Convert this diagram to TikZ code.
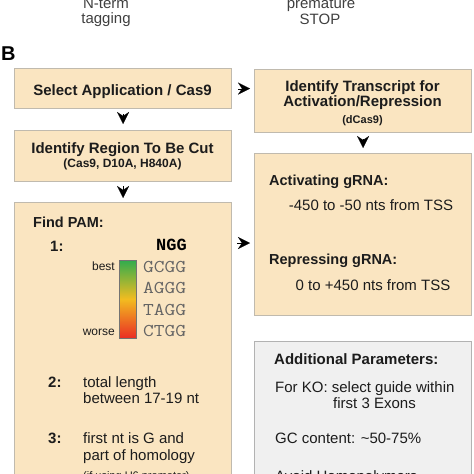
\documentclass[tikz,border=0pt]{standalone}
\usepackage{fontspec}
\setmainfont{Liberation Sans}
\newfontfamily\codonfont{Latin Modern Mono}[FakeStretch=1.16]
\newfontfamily\nggfont{Liberation Mono}
\usetikzlibrary{arrows.meta}
\definecolor{boxfill}{RGB}{250,229,193}
\definecolor{boxline}{RGB}{192,186,174}
\definecolor{grayfill}{RGB}{240,240,240}
\definecolor{grayline}{RGB}{178,178,178}
\definecolor{txt}{RGB}{28,28,28}
\definecolor{codon}{RGB}{100,100,100}
\definecolor{pamgreen}{RGB}{48,172,78}
\definecolor{pamyellow}{RGB}{242,188,32}
\definecolor{pamred}{RGB}{234,46,36}
\tikzset{
  box/.style={draw=boxline, line width=1.2pt, fill=boxfill, anchor=north west, inner sep=0pt},
  graybox/.style={draw=grayline, line width=1.2pt, fill=grayfill, anchor=north west, inner sep=0pt},
  head/.style={-{Stealth[length=12pt, width=12pt, inset=4pt]}, black, line width=0.1pt},
  ttl/.style={font=\fontsize{15}{18}\selectfont\bfseries, text=txt, inner sep=0pt},
  hd/.style={font=\fontsize{14.5}{17}\selectfont\bfseries, text=txt, inner sep=0pt},
  sub/.style={font=\fontsize{12}{14}\selectfont\bfseries, text=txt, inner sep=0pt},
  body/.style={font=\fontsize{15}{18}\selectfont, text=txt, inner sep=0pt},
  small/.style={font=\fontsize{12}{14}\selectfont, text=txt, inner sep=0pt},
  cod/.style={font=\fontsize{18}{20}\selectfont\codonfont, text=codon, inner sep=0pt, anchor=base west},
}
\begin{document}
\begin{tikzpicture}[x=1pt,y=-1pt]
\useasboundingbox (0,0) rectangle (474,474);
\clip (0,0) rectangle (474,474);
\fill[white] (0,0) rectangle (474,474);
% top labels
\node[body, anchor=base, text=black!75] (nterm) at (106,8) {N-term};
\node[body, anchor=base, text=black!75] (tag) at (106,23) {tagging};
\node[body, anchor=base, text=black!75] (prem) at (321,8) {premature};
\node[body, anchor=base, text=black!75] (stop) at (320,24) {STOP};
\node[font=\fontsize{20}{22}\selectfont\bfseries, inner sep=0pt, anchor=base west] (B) at (1,60) {B};
% boxes
\node[box, minimum width=217pt, minimum height=40pt] (b1) at (14,68) {};
\node[box, minimum width=217pt, minimum height=51pt] (b2) at (14,130) {};
\node[box, minimum width=217pt, minimum height=300pt] (b3) at (14,202) {};
\node[box, minimum width=217pt, minimum height=63pt] (r1) at (254,69) {};
\node[box, minimum width=217pt, minimum height=162pt] (r2) at (254,153) {};
\node[graybox, minimum width=217pt, minimum height=160pt] (r3) at (254,341) {};
% box texts
\node[ttl, anchor=base] (t1) at (122.5,95) {Select Application / Cas9};
\node[ttl, anchor=base] (t2) at (122.5,153) {Identify Region To Be Cut};
\node[sub, anchor=base] (t2b) at (122.5,167) {(Cas9, D10A, H840A)};
\node[ttl, anchor=base] (r1a) at (362.5,91) {Identify Transcript for};
\node[ttl, anchor=base] (r1b) at (362.5,106) {Activation/Repression};
\node[font=\fontsize{11}{13}\selectfont\bfseries, text=txt, inner sep=0pt, anchor=base] (r1c) at (362.5,123) {(dCas9)};
\node[hd, anchor=base west] (act) at (269,185) {Activating gRNA:};
\node[body, anchor=base] (actv) at (371,210) {-450 to -50 nts from TSS};
\node[hd, anchor=base west] (rep) at (269,264) {Repressing gRNA:};
\node[body, anchor=base] (repv) at (373,290) {0 to +450 nts from TSS};
\node[ttl, anchor=base west] (add) at (274,364) {Additional Parameters:};
\node[body, anchor=base west] (ko) at (275,392) {For KO: select guide within};
\node[body, anchor=base] (ko2) at (374.5,408) {first 3 Exons};
\node[body, anchor=base west] (gc) at (275,443) {GC content: \textasciitilde50-75\%};
\node[body, anchor=base west] (avoid) at (275,481) {Avoid Homopolymers};
% Find PAM
\node[hd, anchor=base west] (pam) at (33,227) {Find PAM:};
\node[ttl, anchor=base west] (n1) at (50,251) {1:};
\node[font=\fontsize{17}{19}\selectfont\nggfont\bfseries, text=black, inner sep=0pt, anchor=base east] (ngg) at (187,250) {NGG};
\shade[top color=pamgreen, bottom color=pamyellow] (119,260) rectangle (136,299);
\shade[top color=pamyellow, bottom color=pamred] (119,299) rectangle (136,338);
\draw[draw=black!55, line width=0.8pt] (119,260) rectangle (136,338);
\node[small, anchor=base east] (best) at (115,270) {best};
\node[small, anchor=base east] (worse) at (115,335) {worse};
\node[cod] (c1) at (143,272) {GCGG};
\node[cod] (c2) at (143,293.5) {AGGG};
\node[cod] (c3) at (143,315) {TAGG};
\node[cod] (c4) at (143,336.5) {CTGG};
\node[ttl, anchor=base west] (n2) at (48,387) {2:};
\node[body, anchor=base west] (l2a) at (83,387) {total length};
\node[body, anchor=base west] (l2b) at (83,403) {between 17-19 nt};
\node[ttl, anchor=base west] (n3) at (48,443) {3:};
\node[body, anchor=base west] (l3a) at (83,443) {first nt is G and};
\node[body, anchor=base west] (l3b) at (83,460) {part of homology};
\node[font=\fontsize{11}{13}\selectfont, text=txt, inner sep=0pt, anchor=base west] (l3c) at (83,479) {(if using U6 promoter)};
% arrows
\draw[head, shorten <=5pt, shorten >=6pt] (b1.south) -- (b2.north);
\draw[head, shorten <=4pt, shorten >=4pt] (b2.south) -- (b3.north);
\draw[head, shorten <=6pt, shorten >=5pt] (r1.south) -- (r2.north);
\draw[head, shorten <=6pt, shorten >=4pt] (b1.east) -- (b1.east -| r1.west);
\coordinate (a2s) at (231,243);
\coordinate (a2e) at (254,243);
\draw[head, shorten <=6pt, shorten >=4pt] (a2s) -- (a2e);
\end{tikzpicture}
\end{document}
